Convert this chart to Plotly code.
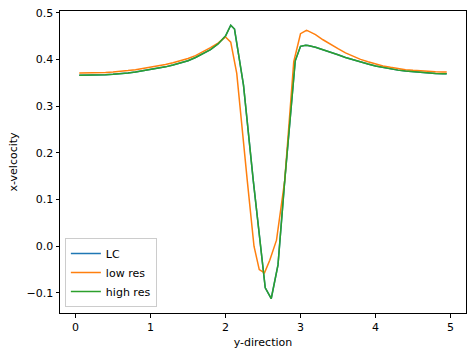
import plotly.graph_objects as go

# high res / LC data
x_high = [0.05, 0.1, 0.2, 0.3, 0.4, 0.5, 0.6, 0.7, 0.8, 0.9, 1.0, 1.1, 1.2, 1.3, 1.4,
          1.5, 1.6, 1.7, 1.8, 1.9, 2.0, 2.07, 2.12,
          2.24, 2.37, 2.53, 2.61, 2.70, 2.79, 2.93, 3.0, 3.07, 3.1, 3.2, 3.3, 3.4,
          3.5, 3.6, 3.7, 3.8, 3.9, 4.0, 4.1, 4.2, 4.3, 4.4, 4.5, 4.6, 4.7, 4.8,
          4.9, 4.95]
v_high = [0.366, 0.366, 0.366, 0.3665, 0.367, 0.368, 0.369, 0.371, 0.373, 0.3755,
          0.378, 0.381, 0.384, 0.388, 0.392, 0.397, 0.404, 0.412, 0.421, 0.433,
          0.450, 0.473, 0.465, 0.345, 0.141, -0.089, -0.112, -0.040, 0.141, 0.397,
          0.428, 0.430, 0.4295, 0.426, 0.421, 0.416, 0.410, 0.404, 0.399, 0.394,
          0.390, 0.386, 0.3825, 0.379, 0.377, 0.375, 0.3735, 0.372, 0.371, 0.370,
          0.3695, 0.369]
v_lc = list(v_high)

# low res data
x_low = [0.05, 0.1, 0.2, 0.3, 0.4, 0.5, 0.6, 0.7, 0.8, 0.9, 1.0, 1.1, 1.2, 1.3, 1.4,
         1.5, 1.6, 1.7, 1.8, 1.9, 2.0, 2.07, 2.15,
         2.29, 2.38, 2.45, 2.52, 2.59, 2.68, 2.79, 2.91, 3.0, 3.08, 3.1, 3.2, 3.3,
         3.4, 3.5, 3.6, 3.7, 3.8, 3.9, 4.0, 4.1, 4.2, 4.3, 4.4, 4.5, 4.6, 4.7,
         4.8, 4.9, 4.95]
v_low = [0.371, 0.371, 0.371, 0.3715, 0.372, 0.373, 0.374, 0.376, 0.378, 0.3805,
         0.383, 0.386, 0.389, 0.393, 0.397, 0.402, 0.408, 0.416, 0.425, 0.435,
         0.448, 0.437, 0.370, 0.141, 0.000, -0.050, -0.057, -0.030, 0.013, 0.141,
         0.395, 0.455, 0.462, 0.461, 0.453, 0.442, 0.432, 0.423, 0.414, 0.407,
         0.400, 0.395, 0.390, 0.386, 0.383, 0.380, 0.378, 0.3765, 0.375, 0.374,
         0.3735, 0.373, 0.373]

x_ticks = [0, 1, 2, 3, 4, 5]
y_ticks = [-0.1, 0.0, 0.1, 0.2, 0.3, 0.4, 0.5]

fig = go.Figure()
fig.add_trace(go.Scatter(x=x_high, y=v_lc, mode="lines", name="LC",
                         line=dict(color="#1f77b4", width=1.5)))
fig.add_trace(go.Scatter(x=x_low, y=v_low, mode="lines", name="low res",
                         line=dict(color="#ff7f0e", width=1.5)))
fig.add_trace(go.Scatter(x=x_high, y=v_high, mode="lines", name="high res",
                         line=dict(color="#2ca02c", width=1.5)))

FONT = dict(family="DejaVu Sans", size=11, color="black")

axis_common = dict(showgrid=False, zeroline=False, showline=True, linecolor="black",
                   linewidth=1, mirror=True, ticks="outside", ticklen=3.5,
                   tickwidth=1, tickcolor="black", tickfont=FONT)

fig.update_xaxes(range=[-0.207, 5.207], tickvals=x_ticks, tickformat="d",
                 title=dict(text="y-direction", font=FONT, standoff=5),
                 **axis_common)
fig.update_yaxes(range=[-0.143, 0.5036], tickvals=y_ticks, tickformat=".1f",
                 title=dict(text="x-velcocity", font=FONT, standoff=6),
                 **axis_common)

fig.update_layout(
    width=474, height=356,
    margin=dict(l=60, r=8, t=11, b=43),
    paper_bgcolor="white", plot_bgcolor="white",
    font=FONT,
    legend=dict(x=0.012, y=0.02, xanchor="left", yanchor="bottom",
                bgcolor="rgba(255,255,255,0.8)", bordercolor="#cccccc", borderwidth=1,
                font=FONT, tracegroupgap=0, itemwidth=30),
    showlegend=True,
)

fig.write_html("out.html")
